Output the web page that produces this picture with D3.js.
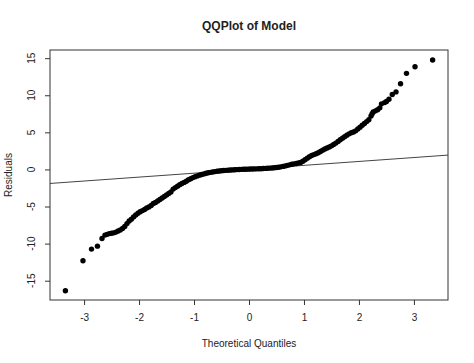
<!DOCTYPE html>
<html>
<head>
<meta charset="utf-8">
<script src="https://cdn.jsdelivr.net/npm/d3@7"></script>
<style>
  body { margin: 0; background: #fff; }
  text { font-family: "Liberation Sans", Arial, sans-serif; fill: #222; }
</style>
</head>
<body>
<svg></svg>
<script>
// theoretical quantile, residual
let points = [
  [-3.34, -16.36], [-3.02, -12.3], [-2.865, -10.74], [-2.757, -10.34], [-2.674, -9.3],
  [-2.62, -8.85], [-2.58, -8.75], [-2.54, -8.65], [-2.50, -8.6], [-2.46, -8.55],
  [-2.42, -8.45], [-2.38, -8.3], [-2.34, -8.15], [-2.30, -7.95], [-2.26, -7.7],
  [-2.22, -7.3], [-2.18, -6.95], [-2.14, -6.7], [-2.10, -6.4], [-2.06, -6.15],
  [-2.02, -5.9], [-1.98, -5.7], [-1.94, -5.55], [-1.90, -5.4], [-1.86, -5.2],
  [-1.82, -5.05], [-1.78, -4.85], [-1.74, -4.6], [-1.70, -4.45], [-1.66, -4.25],
  [-1.62, -4.05], [-1.58, -3.85], [-1.54, -3.65], [-1.50, -3.45], [-1.46, -3.25],
  [-1.42, -3.05], [-1.38, -2.65], [-1.34, -2.45], [-1.30, -2.25], [-1.26, -2.05],
  [-1.22, -1.9], [-1.18, -1.75], [-1.14, -1.6], [-1.10, -1.4], [-1.06, -1.25],
  [-1.02, -1.1], [-0.98, -0.98], [-0.94, -0.87], [-0.90, -0.77], [-0.86, -0.68],
  [-0.82, -0.6], [-0.78, -0.52], [-0.74, -0.45], [-0.70, -0.39], [-0.66, -0.34],
  [-0.62, -0.29], [-0.58, -0.25], [-0.54, -0.21], [-0.50, -0.18], [-0.46, -0.15],
  [-0.42, -0.12], [-0.38, -0.1], [-0.34, -0.08], [-0.30, -0.06], [-0.26, -0.04],
  [-0.22, -0.02], [-0.18, 0], [-0.14, 0.01], [-0.10, 0.02], [-0.06, 0.03],
  [-0.02, 0.04], [0.02, 0.05], [0.06, 0.06], [0.10, 0.07], [0.14, 0.08],
  [0.18, 0.09], [0.22, 0.1], [0.26, 0.12], [0.30, 0.14], [0.34, 0.16],
  [0.38, 0.18], [0.42, 0.2], [0.46, 0.23], [0.50, 0.26], [0.54, 0.3],
  [0.58, 0.35], [0.62, 0.41], [0.66, 0.48], [0.70, 0.55], [0.74, 0.62],
  [0.78, 0.69], [0.82, 0.75], [0.86, 0.8], [0.90, 0.86], [0.94, 0.93],
  [0.98, 1.1], [1.02, 1.3], [1.06, 1.52], [1.10, 1.72], [1.14, 1.88],
  [1.18, 2.0], [1.22, 2.12], [1.26, 2.25], [1.30, 2.42], [1.34, 2.6],
  [1.38, 2.75], [1.42, 2.88], [1.46, 3.02], [1.50, 3.18], [1.54, 3.36],
  [1.58, 3.55], [1.62, 3.78], [1.66, 4.0], [1.70, 4.2], [1.74, 4.4],
  [1.78, 4.6], [1.82, 4.8], [1.86, 4.95], [1.90, 5.05], [1.94, 5.2],
  [1.98, 5.45], [2.02, 5.7], [2.06, 5.95], [2.10, 6.2], [2.14, 6.45],
  [2.18, 6.7], [2.22, 7.2], [2.24, 7.5], [2.26, 7.75], [2.30, 7.9],
  [2.34, 8.05], [2.38, 8.3], [2.41, 8.84], [2.467, 9.01], [2.50, 9.15],
  [2.546, 9.47], [2.606, 10.1], [2.674, 10.45], [2.757, 11.55], [2.865, 12.95],
  [3.02, 13.85], [3.34, 14.75]
];

let xTicks = [-3, -2, -1, 0, 1, 2, 3];
let yTicks = [-15, -10, -5, 0, 5, 10, 15];
let refIntercept = 0.02, refSlope = 0.528;

let svgWidth = 474, svgHeight = 363;
let plotLeft = 50, plotRight = 448, plotTop = 50, plotBottom = 300;

let svg = d3.select('svg')
            .attr('width', svgWidth)
            .attr('height', svgHeight);

let x = d3.scaleLinear().domain([-3.62, 3.62]).range([plotLeft, plotRight]);
let y = d3.scaleLinear().domain([-17.6, 16.1]).range([plotBottom, plotTop]);

// reference line, clipped to the box
svg.append('clipPath').attr('id', 'box')
   .append('rect')
   .attr('x', plotLeft).attr('y', plotTop)
   .attr('width', plotRight - plotLeft).attr('height', plotBottom - plotTop);

let xd = x.domain();
svg.append('line')
   .attr('clip-path', 'url(#box)')
   .attr('x1', x(xd[0])).attr('y1', y(refIntercept + refSlope * xd[0]))
   .attr('x2', x(xd[1])).attr('y2', y(refIntercept + refSlope * xd[1]))
   .attr('stroke', '#444')
   .attr('stroke-width', 1);

svg.append('g')
   .selectAll('circle')
   .data(points)
   .enter()
   .append('circle')
   .attr('cx', d => x(d[0]))
   .attr('cy', d => y(d[1]))
   .attr('r', 2.7)
   .attr('fill', '#000');

// axes
let xAxis = svg.append('g')
   .attr('transform', 'translate(0,' + plotBottom + ')')
   .call(d3.axisBottom(x).tickValues(xTicks).tickSize(5).tickSizeOuter(0).tickPadding(9)
          .tickFormat(d => d));
xAxis.select('.domain').remove();
xAxis.selectAll('line').attr('stroke', '#333');
xAxis.selectAll('text')
     .style('font-family', '"Liberation Sans", Arial, sans-serif')
     .style('font-size', '10px').attr('fill', '#222');

let yAxis = svg.append('g')
   .attr('transform', 'translate(' + plotLeft + ',0)')
   .call(d3.axisLeft(y).tickValues(yTicks).tickSize(5).tickSizeOuter(0).tickFormat(''));
yAxis.select('.domain').remove();
yAxis.selectAll('line').attr('stroke', '#333');

svg.append('g')
   .selectAll('text')
   .data(yTicks)
   .enter()
   .append('text')
   .attr('transform', d => 'translate(35,' + y(d) + ') rotate(-90)')
   .attr('text-anchor', 'middle')
   .style('font-size', '10px')
   .text(d => d);

svg.append('rect')
   .attr('x', plotLeft).attr('y', plotTop)
   .attr('width', plotRight - plotLeft).attr('height', plotBottom - plotTop)
   .attr('fill', 'none')
   .attr('stroke', '#333')
   .attr('stroke-width', 1);

svg.append('text')
   .attr('x', (plotLeft + plotRight) / 2).attr('y', 30)
   .attr('text-anchor', 'middle')
   .style('font-size', '12px')
   .style('font-weight', 'bold')
   .text('QQPlot of Model');

svg.append('text')
   .attr('x', (plotLeft + plotRight) / 2).attr('y', 347)
   .attr('text-anchor', 'middle')
   .style('font-size', '10px')
   .text('Theoretical Quantiles');

svg.append('text')
   .attr('transform', 'translate(12,' + (plotTop + plotBottom) / 2 + ') rotate(-90)')
   .attr('text-anchor', 'middle')
   .style('font-size', '10px')
   .text('Residuals');
</script>
</body>
</html>
